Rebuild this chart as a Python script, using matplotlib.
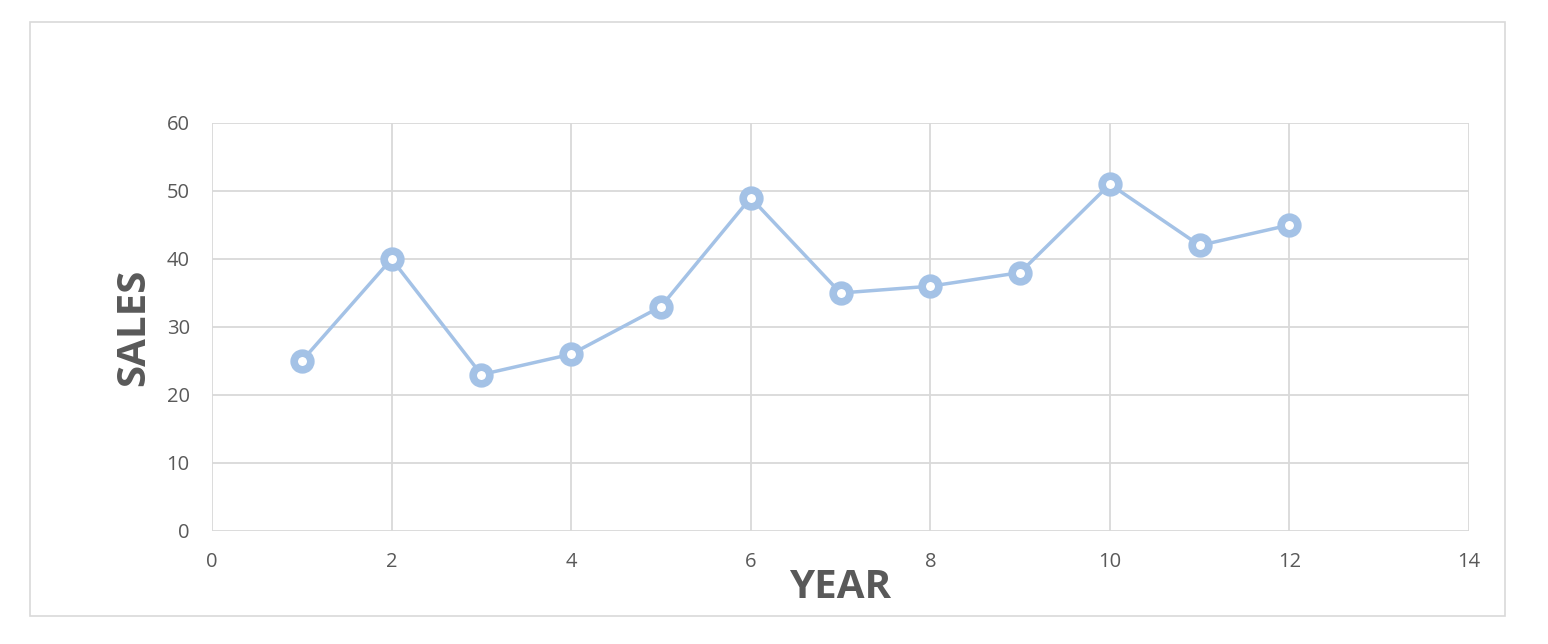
import matplotlib.pyplot as plt
from matplotlib.patches import Rectangle

years = [1, 2, 3, 4, 5, 6, 7, 8, 9, 10, 11, 12]
sales = [25, 40, 23, 26, 33, 49, 35, 36, 38, 51, 42, 45]

x_ticks = [0, 2, 4, 6, 8, 10, 12, 14]
y_ticks = [0, 10, 20, 30, 40, 50, 60]

plt.rcParams['font.family'] = ['Open Sans', 'DejaVu Sans']

fig = plt.figure(figsize=(15.48, 6.44), dpi=100)
ax = fig.add_axes([212 / 1548, 1 - 531 / 644, (1469 - 212) / 1548, (531 - 123) / 644])

# outer chart border
fig.patches.append(Rectangle((30 / 1548, 1 - 616 / 644), (1505 - 30) / 1548, (616 - 22) / 644,
                             transform=fig.transFigure, fill=False, edgecolor='#D9D9D9', linewidth=1.2))

linie = '#A4C2E6'
ax.plot(years, sales, color=linie, linewidth=2.5, marker='o', markersize=12,
        markeredgewidth=5.5, markeredgecolor=linie, markerfacecolor='white', zorder=3)

ax.set_xlim(0, 14)
ax.set_ylim(0, 60)
ax.set_xticks(x_ticks)
ax.set_yticks(y_ticks)
ax.grid(True, color='#D9D9D9', linewidth=1.3)
ax.set_axisbelow(True)
for s in ax.spines.values():
    s.set_visible(False)
ax.tick_params(length=0, labelsize=14.5, colors='#595959')
ax.tick_params(axis='x', pad=15)
ax.tick_params(axis='y', pad=16)

ax.set_xlabel('YEAR', fontsize=29, fontweight='bold', color='#595959', labelpad=-3)
ax.set_ylabel('SALES', fontsize=29, fontweight='bold', color='#595959', labelpad=10)

fig.savefig('out.png', dpi=100)
